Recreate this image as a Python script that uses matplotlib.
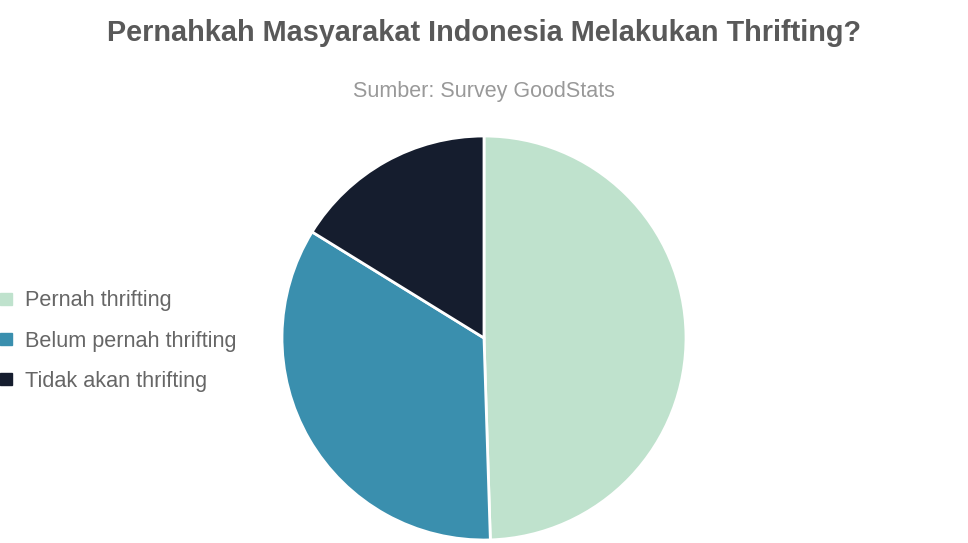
import matplotlib.pyplot as plt
from matplotlib.lines import Line2D

labels = ['Pernah thrifting', 'Belum pernah thrifting', 'Tidak akan thrifting']
values = [49.5, 34.3, 16.2]
colors = ['#bfe2cd', '#3a8fae', '#151d2e']

plt.rcParams['font.family'] = ['Liberation Sans', 'DejaVu Sans']

fig = plt.figure(figsize=(9.68, 5.43), dpi=100)
W, H = 968, 543
cx, cy, r = 484, 338, 202
ax = fig.add_axes([(cx - r) / W, (H - cy - r) / H, 2 * r / W, 2 * r / H])
ax.pie(values, colors=colors, startangle=90, counterclock=False,
       wedgeprops={'edgecolor': 'white', 'linewidth': 2})
ax.set_xlim(-1, 1)
ax.set_ylim(-1, 1)
ax.set_aspect('equal')
ax.axis('off')

fig.text(484 / W, 1 - 33 / H, 'Pernahkah Masyarakat Indonesia Melakukan Thrifting?',
         ha='center', va='center', fontsize=20.8, fontweight='bold', color='#595959')
fig.text(484 / W, 1 - 92 / H, 'Sumber: Survey GoodStats',
         ha='center', va='center', fontsize=15.5, color='#999999')

handles = [Line2D([], [], marker='s', linestyle='none', markersize=8.8,
                  markerfacecolor=c, markeredgecolor=c) for c in colors]
fig.legend(handles, labels, loc='center left', bbox_to_anchor=(0.0, 1 - 341 / H),
           frameon=False, fontsize=15.6, labelcolor='#666666', handletextpad=0.6,
           labelspacing=0.88, handlelength=0.55, borderpad=0, borderaxespad=0)

fig.savefig('out.png', dpi=100)
